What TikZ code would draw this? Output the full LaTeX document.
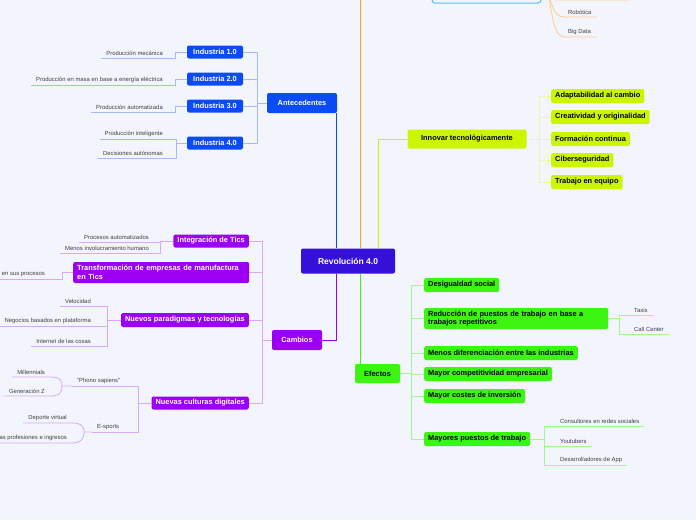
\documentclass[tikz,border=0pt]{standalone}
\usepackage{fontspec}
\setmainfont{Liberation Sans}
\begin{document}
\begin{tikzpicture}[x=1pt,y=-1pt,
 box/.style={rounded corners=2pt,inner xsep=4pt,inner ysep=0pt,font=\bfseries\fontsize{7.4}{8.4}\selectfont,text=white,align=left},
 leaf/.style={inner xsep=5pt,inner ysep=2pt,font=\fontsize{5.9}{6.5}\selectfont,text=black!75},
 con/.style={line width=0.8pt}]
\definecolor{bg}{HTML}{F3F5FD}
\definecolor{cen}{HTML}{3510D8}
\definecolor{blu}{HTML}{0A4BF5}\definecolor{blul}{HTML}{A6BAF7}
\definecolor{pur}{HTML}{9B00F5}\definecolor{purl}{HTML}{DBA8F9}
\definecolor{grn}{HTML}{3CF510}\definecolor{grnl}{HTML}{A5F590}
\definecolor{yel}{HTML}{CCF500}\definecolor{yell}{HTML}{E8F7A8}
\definecolor{org}{HTML}{FFA020}\definecolor{orgl}{HTML}{FFCC88}
\fill[bg] (0,0) rectangle (696,520);
\useasboundingbox (0,0) rectangle (696,520);
% central
\node[box,fill=cen,minimum width=94,minimum height=25,font=\bfseries\fontsize{8.5}{9}\selectfont] (c) at (348,261) {Revolución 4.0};
% top orange
\coordinate (otop) at (360,0);
\draw[org,con] (otop) -- (c.north -| otop);
\draw[blu!50!cyan!70,line width=1pt,rounded corners=3pt] (432,-10) -- (432,3) -- (541,3) -- (541,-10);
\node[leaf,anchor=south west] (rob) at (563,17) {Robótica};
\node[leaf,anchor=south west] (big) at (563,37) {Big Data};
\draw[orgl,con] (548,-5) .. controls (553,5) and (553,17) .. (565,17) -- (597,17);
\draw[orgl,con] (548,-5) .. controls (553,15) and (553,37) .. (565,37) -- (597,37);
\draw[orgl,con] (548,-5) .. controls (549,-1) and (552,0) .. (560,0) -- (630,0);
% Antecedentes
\node[box,fill=blu,minimum width=70,minimum height=20] (ant) at (302,103) {Antecedentes};
\draw[blu,con] (ant.south -| 336,0) -- (c.north -| 336,0);
\foreach \n/\t/\y in {i1/Industria 1.0/52,i2/Industria 2.0/79,i3/Industria 3.0/106,i4/Industria 4.0/143}{
 \node[box,fill=blu,minimum width=56,minimum height=13] (\n) at (215,\y) {\t};
 \draw[blul,con] (ant.west) -- (257,103) |- (\n.east);}
\node[leaf,anchor=south east] (l1) at (168,58) {Producción mecánica};
\node[leaf,anchor=south east] (l2) at (168,85) {Producción en masa en base a energía eléctrica};
\node[leaf,anchor=south east] (l3) at (168,112) {Producción automatizada};
\node[leaf,anchor=south east] (l4) at (168,139) {Producción inteligente};
\node[leaf,anchor=south east] (l5) at (168,158) {Decisiones autónomas};
\foreach \b/\l in {i1/l1,i2/l2,i3/l3}{\draw[blul,con] (\b.west) -- ++(-11,0) |- (\l.south west);}
\draw[blul,con] (i4.west) -- (176,143) |- (l4.south west);
\draw[blul,con] (176,143) |- (l5.south west);
% Innovar
\node[box,fill=yel,text=black,minimum width=119,minimum height=19] (inn) at (467,139) {Innovar tecnológicamente};
\draw[yel,con] (inn.west) -- (378,139) -- (c.north -| 378,0);
\foreach \n/\t/\y in {a1/Adaptabilidad al cambio/96,a2/Creatividad y originalidad/117,a3/Formación continua/139,a4/Ciberseguridad/160,a5/Trabajo en equipo/182}{
 \node[box,fill=yel,text=black,minimum height=14,anchor=west] (\n) at (551,\y) {\t};
 \draw[yell,con] (inn.east) -- (539,139) |- (\n.west);}
% Cambios
\node[box,fill=pur,minimum width=50,minimum height=20] (cam) at (297,340) {Cambios};
\draw[pur,con] (c.south -| 336,0) |- (cam.east);
\node[box,fill=pur,minimum height=13,anchor=east] (ct) at (249,241) {Integración de Tics};
\node[box,fill=pur,minimum height=21,anchor=west,text width=168] (tr) at (73,272.5) {Transformación de empresas de manufactura\\en Tics};
\node[box,fill=pur,minimum height=14,anchor=east] (np) at (249,320) {Nuevos paradigmas y tecnologías};
\node[box,fill=pur,minimum height=13,anchor=east] (nc) at (249,403) {Nuevas culturas digitales};
\foreach \n in {ct,tr,np,nc}{\draw[purl,con] (cam.west) -- (262,340) |- (\n.east);}
\node[leaf,anchor=south east] (p1) at (154,242) {Procesos automatizados};
\node[leaf,anchor=south east] (p2) at (154,253) {Menos involucramiento humano};
\draw[purl,con] (ct.west) -- (160,241) |- (p1.south west);
\draw[purl,con] (160,241) |- (p2.south west);
\node[leaf,anchor=south east] (p3) at (50,279) {en sus procesos};
\draw[purl,con] (tr.west) -- (62,272.5) |- (p3.south west);
\node[leaf,anchor=south east] (v1) at (96,306) {Velocidad};
\node[leaf,anchor=south east] (v2) at (96,326) {Negocios basados en plataforma};
\node[leaf,anchor=south east] (v3) at (96,346) {Internet de las cosas};
\foreach \l in {v1,v2,v3}{\draw[purl,con] (np.west) -- (107,320) |- (\l.south west);}
\node[leaf,anchor=south west] (ph) at (72,386) {"Phono sapiens"};
\node[leaf,anchor=south west] (es) at (92,432) {E-sports};
\draw[purl,con] (nc.west) -- (138,403) |- (ph.south west);
\draw[purl,con] (138,403) |- (es.south west);
\node[leaf,anchor=south east] (m1) at (50,377) {Millennials};
\node[leaf,anchor=south east] (m2) at (50,396) {Generación Z};
\draw[purl,con] (ph.south west) -- (62,386) .. controls (62,378) and (58,377) .. (m1.south east) -- (m1.south west);
\draw[purl,con] (62,386) .. controls (62,394) and (58,396) .. (m2.south east) -- (m2.south west);
\node[leaf,anchor=south east] (d1) at (72,423) {Deporte virtual};
\node[leaf,anchor=south east] (d2) at (72,443) {Nuevas profesiones e ingresos};
\draw[purl,con] (es.south west) -- (84,432) .. controls (84,425) and (80,423) .. (d1.south east) -- (d1.south west);
\draw[purl,con] (84,432) .. controls (84,440) and (80,443) .. (d2.south east) -- (d2.south west);
% Efectos
\node[box,fill=grn,text=black,minimum width=45,minimum height=19] (ef) at (377.5,373.5) {Efectos};
\draw[grn,con] (c.south -| 360,0) -- (ef.north -| 360,0);
\foreach \n/\t/\y in {e1/Desigualdad social/285,e3/Menos diferenciación entre las industrias/353,e4/Mayor competitividad empresarial/374,e5/Mayor costes de inversión/396,e6/Mayores puestos de trabajo/439}{
 \node[box,fill=grn,text=black,minimum height=14,anchor=west] (\n) at (424,\y) {\t};}
\node[box,fill=grn,text=black,minimum height=21,anchor=west,text width=176] (e2) at (424,318.5) {Reducción de puestos de trabajo en base a\\trabajos repetitivos};
\foreach \n in {e1,e2,e3,e4,e5,e6}{\draw[grnl,con] (ef.east) -- (411,373.5) |- (\n.west);}
\node[leaf,anchor=south west] (t1) at (629,315) {Taxis};
\node[leaf,anchor=south west] (t2) at (629,334) {Call Center};
\draw[grnl,con] (e2.east) -- (619,318.5) |- (t1.south east);
\draw[grnl,con] (619,318.5) |- (t2.south east);
\node[leaf,anchor=south west] (y1) at (555,426) {Consultores en redes sociales};
\node[leaf,anchor=south west] (y2) at (555,446) {Youtubers};
\node[leaf,anchor=south west] (y3) at (555,465) {Desarrolladores de App};
\foreach \l in {y1,y2,y3}{\draw[grnl,con] (e6.east) -- (544,439) |- (\l.south east);}
\end{tikzpicture}
\end{document}
